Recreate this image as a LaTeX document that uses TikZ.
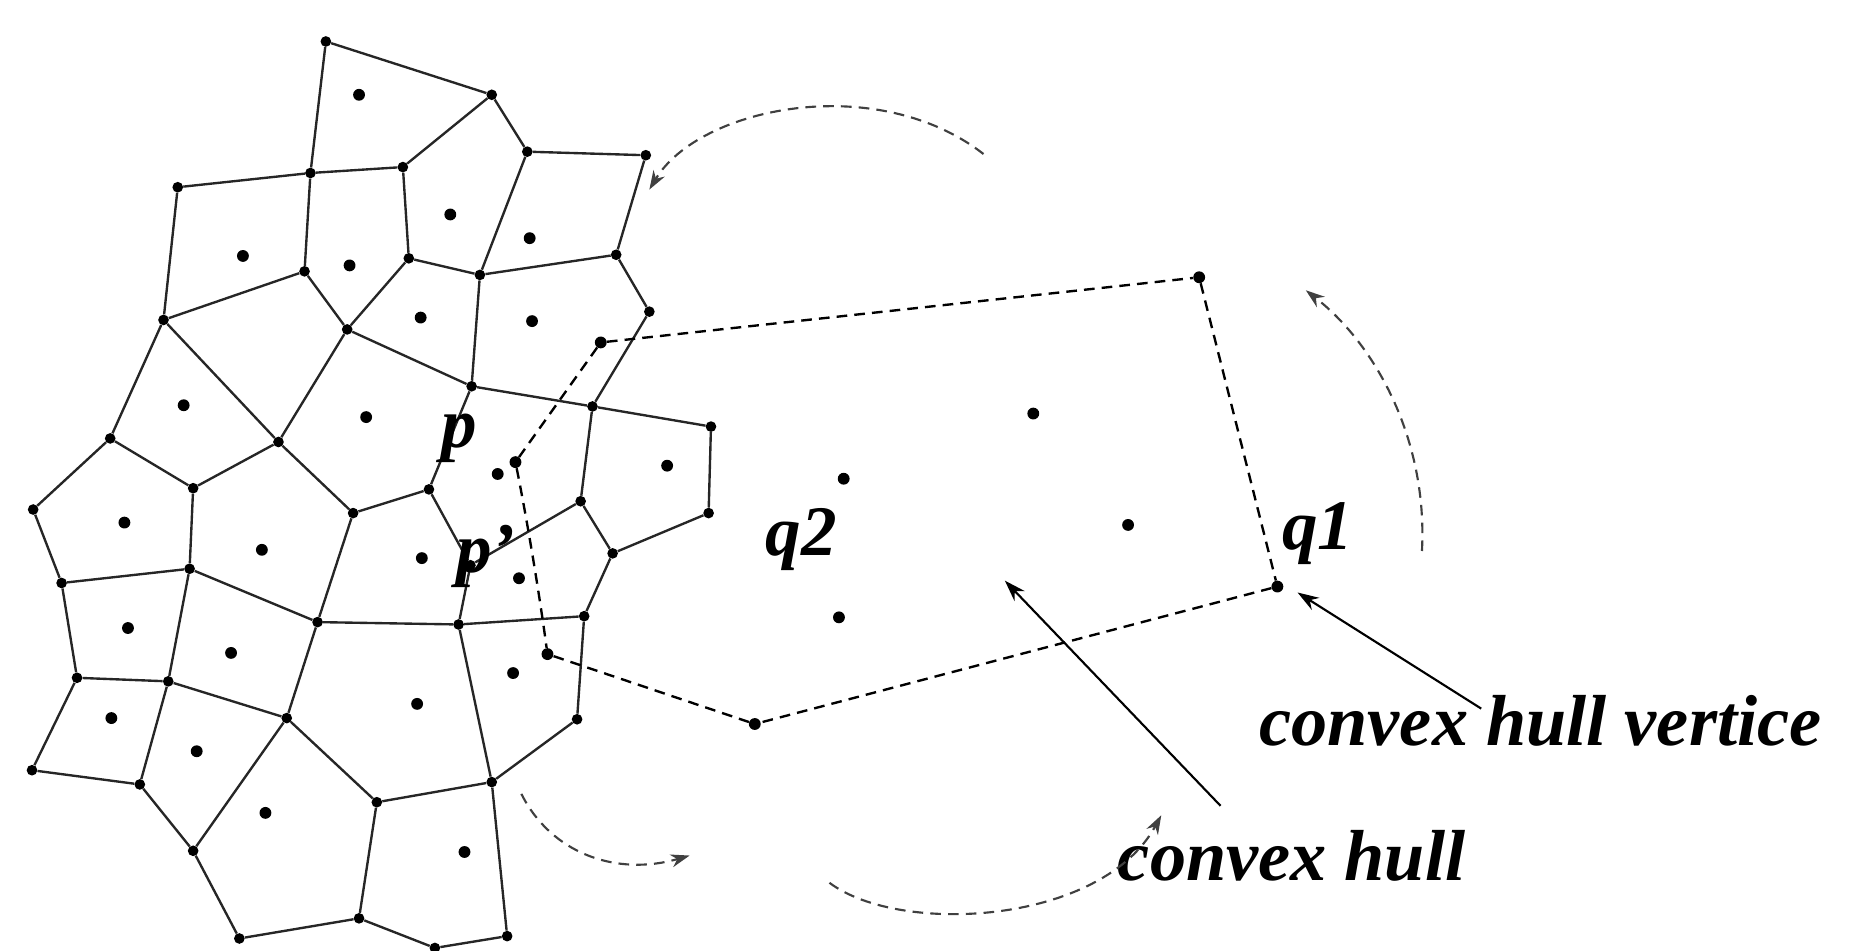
\documentclass[tikz,border=0pt]{standalone}
\usepackage{fontspec}
\setmainfont{Liberation Serif}
\usetikzlibrary{arrows.meta}
\begin{document}
\begin{tikzpicture}[x=1pt,y=-1pt,
  v/.style={circle,fill=black,inner sep=0pt,minimum size=10pt},
  edge/.style={line width=2pt,draw=black!85},
  hull/.style={line width=2pt,dash pattern=on 9pt off 6pt},
  carrow/.style={line width=1.8pt,dash pattern=on 9pt off 6pt,draw=black!75,-{Stealth[length=16pt,width=11pt]}},
  lab/.style={font=\bfseries\itshape\fontsize{60}{62}\selectfont},
  txt/.style={font=\bfseries\itshape\fontsize{61}{63}\selectfont}]
\useasboundingbox (0,0) rectangle (1568,802);
% Voronoi vertices
\foreach \n/\x/\y in {1/275/35,2/415/80,3/445/128,4/545/131,5/520/215,6/548/263,7/500/343,8/600/360,9/598/433,10/517/467,11/493/520,12/487/607,13/415/660,14/428/790,15/367/800,16/303/775,17/202/792,18/163/718,19/118/662,20/27/650,21/65/572,22/52/492,23/28/430,24/93/370,25/138/270,26/150/158,27/262/146,28/340/141,29/345/218,30/405/232,31/257/229,32/293/278,33/398/326,34/235/373,35/163/412,36/298/433,37/362/413,38/397/477,39/490/423,40/160/480,41/268/525,42/387/527,43/142/575,44/242/606,45/318/677}
  \node[v,minimum size=9pt] (a\n) at (\x,\y) {};
\foreach \s/\t in {1/2,2/3,3/4,4/5,5/6,6/7,7/8,8/9,9/10,10/39,7/39,39/38,1/27,2/28,26/27,27/28,28/29,29/30,30/5,3/30,27/31,26/25,31/25,31/32,29/32,32/33,30/33,33/37,33/7,32/34,25/34,25/24,24/35,34/35,34/36,36/37,37/38,10/11,11/42,38/42,36/41,41/42,35/40,23/24,23/22,22/40,40/41,22/21,21/43,40/43,43/44,41/44,42/13,11/12,12/13,13/14,14/15,15/16,16/45,45/13,44/45,44/18,18/17,17/16,18/19,19/43,19/20,20/21}
  \draw[edge] (a\s) -- (a\t);
% sites
\foreach \n/\x/\y in {1/303/80,2/380/181,3/447/201,4/205/216,5/295/224,6/355/268,7/449/271,8/155/342,9/309/352,10/563/393,11/420/400,12/105/441,13/221/464,14/356/471,15/438/488,16/108/530,17/195/551,18/433/568,19/352/594,20/94/606,21/166/634,22/224/686,23/392/719,24/712/404,25/872/349,26/952/443,27/708/521}
  \node[v] (s\n) at (\x,\y) {};
% hull vertices
\node[v] (h1) at (507,289) {};
\node[v] (h2) at (1012,234) {};
\node[v] (h3) at (1078,495) {};
\node[v] (h4) at (637,611) {};
\node[v] (h5) at (462,552) {};
\node[v] (h6) at (435,390) {};
\draw[hull] (h1) -- (h2) -- (h3) -- (h4) -- (h5);
\draw[hull] (h1) -- (h6) .. controls (445,440) and (455,500) .. (h5);
% labels
\node[lab] (p) at (388,370) {p};
\node[lab] (pp) at (410,470) {p'};
\node[lab] (q2) at (676,455) {q2};
\node[lab] (q1) at (1112,450) {q1};
\node[txt] (chv) at (1300,608) {convex hull vertice};
\node[txt] (ch) at (1090,722) {convex hull};
% arrows
\coordinate (c1s) at (830,130);
\coordinate (c1e) at (548,160);
\draw[carrow] (c1s) .. controls (740,60) and (590,90) .. (c1e);
\coordinate (c2s) at (1200,465);
\coordinate (c2e) at (1102,245);
\draw[carrow] (c2s) .. controls (1205,370) and (1160,290) .. (c2e);
\coordinate (c3s) at (440,670);
\coordinate (c3e) at (582,722);
\draw[carrow] (c3s) .. controls (465,720) and (520,740) .. (c3e);
\coordinate (c4s) at (700,745);
\coordinate (c4e) at (980,688);
\draw[carrow] (c4s) .. controls (760,790) and (930,780) .. (c4e);
\coordinate (a1s) at (1030,680);
\draw[line width=1.8pt,-{Stealth[length=18pt,width=12pt]}] (a1s) -- (848,490);
\coordinate (a2s) at (1250,598);
\draw[line width=1.8pt,-{Stealth[length=18pt,width=12pt]}] (a2s) -- (1095,500);
\end{tikzpicture}
\end{document}
